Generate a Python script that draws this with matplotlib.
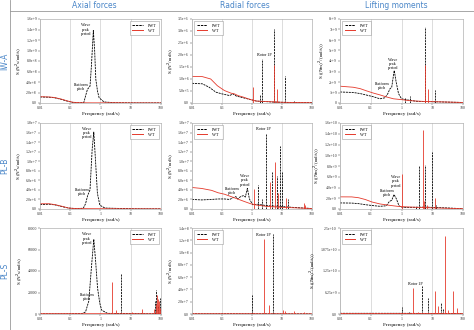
import matplotlib.pyplot as plt
from matplotlib.lines import Line2D

plt.rcParams['font.family'] = 'Liberation Serif'

col_titles = ['Axial forces', 'Radial forces', 'Lifting moments']
row_names = ['IW-A', 'PL-B', 'PL-S']
freq_ticks = [0.01, 0.1, 1, 10, 100]
freq_labels = ['0.01', '0.1', '1', '10', '100']
ylabels = [r'S (N$^2$s/rad/s)', r'S (N$^2$/rad/s)', r'S ((Nm)$^2$/(rad/s))']

# ---- row 1: IW-A ----
# axial
ax_iwa_fwt_f = [0.01, 0.02, 0.03, 0.05, 0.08, 0.12, 0.2, 0.28, 0.33, 0.37, 0.45, 0.5, 0.58, 0.64, 0.7, 0.8, 0.9, 1.3, 3, 10, 100]
ax_iwa_fwt_s = [1.15e8, 1.1e8, 1.0e8, 0.7e8, 0.35e8, 0.12e8, 0.04e8, 0.08e8, 1.6e8, 2.6e8, 3.2e8, 7.0e8, 13.8e8, 10.0e8, 4.5e8, 2.2e8, 1.0e8, 0.2e8, 0.05e8, 0.02e8, 0.01e8]
ax_iwa_wt_f = [0.01, 0.02, 0.03, 0.05, 0.08, 0.12, 0.2, 0.5, 1, 3, 10, 100]
ax_iwa_wt_s = [1.2e8, 1.15e8, 1.05e8, 0.75e8, 0.4e8, 0.15e8, 0.05e8, 0.03e8, 0.03e8, 0.05e8, 0.02e8, 0.01e8]
# radial
rad_iwa_fwt_f = [0.01, 0.022, 0.037, 0.063, 0.1, 0.18, 0.23, 0.3, 0.5, 0.85, 1.4, 5, 20, 100]
rad_iwa_fwt_s = [0.82e6, 0.8e6, 0.66e6, 0.45e6, 0.38e6, 0.31e6, 0.38e6, 0.29e6, 0.22e6, 0.15e6, 0.08e6, 0.04e6, 0.02e6, 0.01e6]
rad_iwa_wt_f = [0.01, 0.022, 0.042, 0.07, 0.12, 0.2, 0.26, 0.34, 0.5, 0.85, 1.4, 10, 100]
rad_iwa_wt_s = [1.11e6, 1.1e6, 1.0e6, 0.72e6, 0.52e6, 0.41e6, 0.38e6, 0.31e6, 0.25e6, 0.15e6, 0.08e6, 0.03e6, 0.01e6]
rad_iwa_fwt_pk_f = [1.78, 2.1, 5.3, 12.6, 25]
rad_iwa_fwt_pk_s = [0.34e6, 1.82e6, 3.08e6, 1.13e6, 0.1e6]
rad_iwa_wt_pk_f = [1.1, 5.5, 6.9]
rad_iwa_wt_pk_s = [0.66e6, 1.6e6, 0.6e6]
# lifting
lift_iwa_fwt_f = [0.01, 0.027, 0.045, 0.074, 0.12, 0.2, 0.29, 0.36, 0.42, 0.48, 0.58, 0.67, 0.8, 1.0, 1.5, 3.1, 20, 100]
lift_iwa_fwt_s = [1.05e9, 1.0e9, 0.9e9, 0.75e9, 0.6e9, 0.4e9, 0.5e9, 0.9e9, 1.35e9, 1.5e9, 3.1e9, 2.0e9, 0.9e9, 0.4e9, 0.3e9, 0.16e9, 0.1e9, 0.05e9]
lift_iwa_wt_f = [0.01, 0.027, 0.045, 0.074, 0.12, 0.2, 0.33, 0.55, 1.0, 1.9, 5.2, 100]
lift_iwa_wt_s = [1.6e9, 1.5e9, 1.37e9, 1.15e9, 0.95e9, 0.77e9, 0.57e9, 0.4e9, 0.32e9, 0.22e9, 0.15e9, 0.05e9]
lift_iwa_fwt_pk_f = [1.3, 1.9, 5.9, 12.5]
lift_iwa_fwt_pk_s = [0.48e9, 0.67e9, 7.27e9, 1.2e9]
lift_iwa_wt_pk_f = [5.9, 7.2]
lift_iwa_wt_pk_s = [3.6e9, 1.37e9]

# ---- row 2: PL-B ----
ax_plb_fwt_f = [0.01, 0.02, 0.032, 0.053, 0.088, 0.15, 0.27, 0.32, 0.38, 0.45, 0.53, 0.6, 0.68, 0.79, 0.95, 1.4, 10, 100]
ax_plb_fwt_s = [0.92e6, 1.0e6, 0.85e6, 0.5e6, 0.2e6, 0.1e6, 0.15e6, 1.1e6, 2.9e6, 4.0e6, 12.5e6, 16.1e6, 10.4e6, 3.3e6, 0.8e6, 0.2e6, 0.05e6, 0.02e6]
ax_plb_wt_f = [0.01, 0.02, 0.032, 0.053, 0.088, 0.15, 1, 10, 100]
ax_plb_wt_s = [1.1e6, 1.1e6, 0.9e6, 0.57e6, 0.2e6, 0.08e6, 0.06e6, 0.04e6, 0.02e6]
rad_plb_fwt_f = [0.01, 0.021, 0.045, 0.074, 0.12, 0.18, 0.24, 0.29, 0.33, 0.42, 0.52, 0.6, 0.7, 0.82, 1.05, 1.5, 3.1, 8.4, 28, 100]
rad_plb_fwt_s = [2.0e6, 1.9e6, 2.0e6, 2.1e6, 2.1e6, 2.0e6, 2.4e6, 2.6e6, 2.1e6, 2.6e6, 2.8e6, 2.5e6, 4.3e6, 2.1e6, 0.9e6, 1.0e6, 0.7e6, 0.55e6, 0.3e6, 0.1e6]
rad_plb_wt_f = [0.01, 0.021, 0.045, 0.074, 0.12, 0.2, 0.33, 0.54, 0.9, 1.5, 3.1, 10, 100]
rad_plb_wt_s = [4.5e6, 4.3e6, 3.9e6, 3.4e6, 3.1e6, 2.6e6, 2.1e6, 1.6e6, 1.1e6, 0.8e6, 0.55e6, 0.35e6, 0.1e6]
rad_plb_fwt_pk_f = [1.6, 2.1, 2.9, 4.5, 6.8, 8.4, 10, 16]
rad_plb_fwt_pk_s = [5.0e6, 2.1e6, 15.8e6, 7.7e6, 7.0e6, 13.2e6, 7.7e6, 2.0e6]
rad_plb_wt_pk_f = [1.2, 4.0, 5.8, 7.5, 14, 55, 60]
rad_plb_wt_pk_s = [4.1e6, 5.7e6, 9.8e6, 3.4e6, 2.3e6, 1.3e6, 0.9e6]
lift_plb_fwt_f = [0.01, 0.024, 0.04, 0.067, 0.11, 0.2, 0.32, 0.41, 0.48, 0.57, 0.68, 0.83, 1.05, 1.8, 6, 30, 100]
lift_plb_fwt_s = [1.13e9, 1.1e9, 1.0e9, 0.8e9, 0.65e9, 0.5e9, 0.6e9, 1.45e9, 1.6e9, 2.7e9, 1.9e9, 0.6e9, 0.3e9, 0.3e9, 0.35e9, 0.2e9, 0.05e9]
lift_plb_wt_f = [0.01, 0.024, 0.04, 0.067, 0.11, 0.2, 0.39, 0.74, 1.4, 6, 100]
lift_plb_wt_s = [2.26e9, 2.25e9, 2.1e9, 1.76e9, 1.3e9, 0.94e9, 0.7e9, 0.5e9, 0.4e9, 0.25e9, 0.05e9]
lift_plb_fwt_pk_f = [2.9, 3.8, 6.0, 9.9, 13]
lift_plb_fwt_pk_s = [0.5e9, 8.0e9, 8.2e9, 10.6e9, 0.7e9]
lift_plb_wt_pk_f = [1.0, 4.9, 5.5, 7.0, 12]
lift_plb_wt_pk_s = [6.5e9, 14.7e9, 1.4e9, 0.8e9, 2.1e9]

# ---- row 3: PL-S ----
ax_pls_fwt_f = [0.01, 0.1, 0.24, 0.32, 0.41, 0.5, 0.6, 0.69, 0.8, 0.95, 1.1, 1.7, 100]
ax_pls_fwt_s = [100, 150, 300, 1900, 12000, 43000, 69600, 49000, 24000, 9800, 3500, 600, 100]
ax_pls_wt_f = [0.01, 1, 100]
ax_pls_wt_s = [300, 300, 200]
ax_pls_fwt_pk_f = [4.8, 64, 70, 80, 90]
ax_pls_fwt_pk_s = [37000, 12000, 22000, 8000, 15000]
ax_pls_wt_pk_f = [2.4, 3.3, 11, 24, 57, 66, 72, 78, 85, 95]
ax_pls_wt_pk_s = [30000, 4000, 1900, 5000, 4500, 9000, 17600, 14000, 12000, 6000]
rad_pls_fwt_f = [0.01, 1, 100]
rad_pls_fwt_s = [0.3e6, 0.3e6, 0.2e6]
rad_pls_wt_f = [0.01, 1, 100]
rad_pls_wt_s = [0.4e6, 0.4e6, 0.2e6]
rad_pls_fwt_pk_f = [1.0, 5.1]
rad_pls_fwt_pk_s = [3.1e7, 1.3e8]
rad_pls_wt_pk_f = [1.05, 2.5, 3.7, 10.5, 13, 26, 55]
rad_pls_wt_pk_s = [2e6, 1.22e8, 1.5e7, 6.6e6, 5e6, 5e6, 3e6]
lift_pls_fwt_f = [0.01, 1, 100]
lift_pls_fwt_s = [0.2e9, 0.2e9, 0.1e9]
lift_pls_wt_f = [0.01, 1, 100]
lift_pls_wt_s = [0.15e9, 0.15e9, 0.1e9]
lift_pls_fwt_pk_f = [1.0, 1.7, 4.6, 7.2, 19, 22]
lift_pls_fwt_pk_s = [1.9e9, 0.7e9, 8.2e9, 4.6e9, 3.1e9, 1.5e9]
lift_pls_wt_pk_f = [2.3, 3.5, 12.5, 15, 26, 32, 46, 63]
lift_pls_wt_pk_s = [7.7e9, 0.7e9, 6.6e9, 2.2e9, 22.7e9, 1.2e9, 6.8e9, 1.7e9]

# y scale per panel: (max, step, label format)
yscale = [
    [(1.6e9, 2e8, 'e1'), (3.5e6, 5e5, 'e1'), (8e9, 1e9, 'e0')],
    [(1.8e7, 2e6, 'e1'), (1.8e7, 2e6, 'e1'), (1.6e10, 2e9, 'e1')],
    [(8e4, 2e4, 'int'), (1.4e8, 2e7, 'e1'), (2.5e10, 6.25e9, 'eg')],
]

panels = [
    [(ax_iwa_fwt_f, ax_iwa_fwt_s, ax_iwa_wt_f, ax_iwa_wt_s, [], [], [], []),
     (rad_iwa_fwt_f, rad_iwa_fwt_s, rad_iwa_wt_f, rad_iwa_wt_s, rad_iwa_fwt_pk_f, rad_iwa_fwt_pk_s, rad_iwa_wt_pk_f, rad_iwa_wt_pk_s),
     (lift_iwa_fwt_f, lift_iwa_fwt_s, lift_iwa_wt_f, lift_iwa_wt_s, lift_iwa_fwt_pk_f, lift_iwa_fwt_pk_s, lift_iwa_wt_pk_f, lift_iwa_wt_pk_s)],
    [(ax_plb_fwt_f, ax_plb_fwt_s, ax_plb_wt_f, ax_plb_wt_s, [], [], [], []),
     (rad_plb_fwt_f, rad_plb_fwt_s, rad_plb_wt_f, rad_plb_wt_s, rad_plb_fwt_pk_f, rad_plb_fwt_pk_s, rad_plb_wt_pk_f, rad_plb_wt_pk_s),
     (lift_plb_fwt_f, lift_plb_fwt_s, lift_plb_wt_f, lift_plb_wt_s, lift_plb_fwt_pk_f, lift_plb_fwt_pk_s, lift_plb_wt_pk_f, lift_plb_wt_pk_s)],
    [(ax_pls_fwt_f, ax_pls_fwt_s, ax_pls_wt_f, ax_pls_wt_s, ax_pls_fwt_pk_f, ax_pls_fwt_pk_s, ax_pls_wt_pk_f, ax_pls_wt_pk_s),
     (rad_pls_fwt_f, rad_pls_fwt_s, rad_pls_wt_f, rad_pls_wt_s, rad_pls_fwt_pk_f, rad_pls_fwt_pk_s, rad_pls_wt_pk_f, rad_pls_wt_pk_s),
     (lift_pls_fwt_f, lift_pls_fwt_s, lift_pls_wt_f, lift_pls_wt_s, lift_pls_fwt_pk_f, lift_pls_fwt_pk_s, lift_pls_wt_pk_f, lift_pls_wt_pk_s)],
]

# annotations: (row, col, text, freq, value, vertical alignment)
notes = [
    (0, 0, 'Wave\npeak\nperiod', 0.33, 1.52e9, 'top'), (0, 0, 'Platform\npitch', 0.23, 0.38e9, 'top'),
    (0, 1, 'Rotor 1P', 2.5, 1.9e6, 'bottom'),
    (0, 2, 'Wave\npeak\nperiod', 0.53, 4.3e9, 'top'), (0, 2, 'Platform\npitch', 0.23, 2.0e9, 'top'),
    (1, 0, 'Wave\npeak\nperiod', 0.36, 17.2e6, 'top'), (1, 0, 'Platform\npitch', 0.25, 4.4e6, 'top'),
    (1, 1, 'Rotor 1P', 2.4, 16.7e6, 'center'), (1, 1, 'Wave\npeak\nperiod', 0.58, 7.3e6, 'top'),
    (1, 1, 'Platform\npitch', 0.22, 4.6e6, 'top'),
    (1, 2, 'Wave\npeak\nperiod', 0.66, 6.3e9, 'top'), (1, 2, 'Platform\npitch', 0.34, 3.7e9, 'top'),
    (2, 0, 'Wave\npeak\nperiod', 0.36, 76000, 'top'), (2, 0, 'Platform\npitch', 0.36, 19500, 'top'),
    (2, 1, 'Rotor 1P', 2.3, 1.29e8, 'center'),
    (2, 2, 'Rotor 1P', 2.75, 8.7e9, 'center'),
]
legend_loc = ['upper right', 'upper left', 'upper left']

red = '#e5392b'
blue = '#4a86c8'
grey = '#b0b0b0'


def fmt(v, kind):
    if v == 0:
        return '0' if kind in ('e0', 'int') else '0.0'
    if kind == 'int':
        return f'{v:.0f}'
    exp = len(str(int(v))) - 1
    man = v / 10 ** exp
    if kind == 'e0':
        return f'{man:.0f}e+{exp}'
    if kind == 'eg':
        return f'{man:g}e+{exp}'
    return f'{man:.1f}e+{exp}'


W, H = 474, 330
col_left = [40, 192, 340]
col_right = [161, 312, 463]
row_top = [19, 123, 228]
row_bottom = [103, 209, 314]
title_x = [94, 245, 396]

fig = plt.figure(figsize=(W / 100, H / 100), dpi=100)

for r in range(3):
    for c in range(3):
        ax = fig.add_axes([col_left[c] / W, 1 - row_bottom[r] / H,
                           (col_right[c] - col_left[c]) / W,
                           (row_bottom[r] - row_top[r]) / H])
        ff, fs, wf, ws, fpf, fps, wpf, wps = panels[r][c]
        ax.plot(ff, fs, color='black', ls=(0, (2.5, 1)), lw=0.6)
        if fpf:
            ax.vlines(fpf, 0, fps, colors='black', linestyles=(0, (2.5, 1)), lw=0.6)
        ax.plot(wf, ws, color=red, lw=0.6)
        if wpf:
            ax.vlines(wpf, 0, wps, colors=red, lw=0.6)

        ymax, step, kind = yscale[r][c]
        yt = [i * step for i in range(int(round(ymax / step)) + 1)]
        ax.set_yticks(yt)
        ax.set_yticklabels([fmt(v, kind) for v in yt])
        ax.set_ylim(0, ymax)
        ax.set_xscale('log')
        ax.set_xlim(0.01, 100)
        ax.set_xticks(freq_ticks)
        ax.set_xticklabels(freq_labels)
        ax.minorticks_off()
        ax.tick_params(labelsize=2.8, length=1.2, width=0.3, pad=1, colors='#333333')
        ax.grid(axis='x', color='#cfcfcf', lw=0.5)
        for s in ax.spines.values():
            s.set_color(grey)
            s.set_linewidth(0.5)
        ax.set_xlabel('Frequency (rad/s)', fontsize=3.8, labelpad=1.5)
        ax.set_ylabel(ylabels[c], fontsize=3.6, labelpad=1.5)

        handles = [Line2D([], [], color='black', ls=(0, (2.5, 1)), lw=0.7),
                   Line2D([], [], color=red, lw=0.7)]
        leg = ax.legend(handles, ['FWT', 'WT'], loc=legend_loc[c], fontsize=3,
                        frameon=True, fancybox=False, handlelength=2.5,
                        borderpad=0.6, labelspacing=0.3, handletextpad=1.2)
        leg.get_frame().set_linewidth(0.4)
        leg.get_frame().set_edgecolor('#888888')

        for nr, nc, txt, nx, ny, va in notes:
            if nr == r and nc == c:
                ax.text(nx, ny, txt, fontsize=3, ha='center', va=va, linespacing=1.1)

# headers and frame lines
for c, t in enumerate(col_titles):
    fig.text(title_x[c] / W, 1 - 5 / H, t, fontsize=5.5,
             color=blue, ha='center', va='center', family='Liberation Sans Narrow')
for r, t in enumerate(row_names):
    fig.text(4.5 / W, 1 - (row_top[r] + row_bottom[r]) / 2 / H, t, fontsize=5.5,
             color=blue, ha='center', va='center', rotation=90,
             family='Liberation Sans Narrow')
fig.add_artist(Line2D([10 / W, 1], [1 - 11 / H, 1 - 11 / H], transform=fig.transFigure,
                      color='#999999', lw=0.6))
fig.add_artist(Line2D([10 / W, 10 / W], [0, 1], transform=fig.transFigure,
                      color='#999999', lw=0.6))

fig.savefig('out.png', dpi=100)
